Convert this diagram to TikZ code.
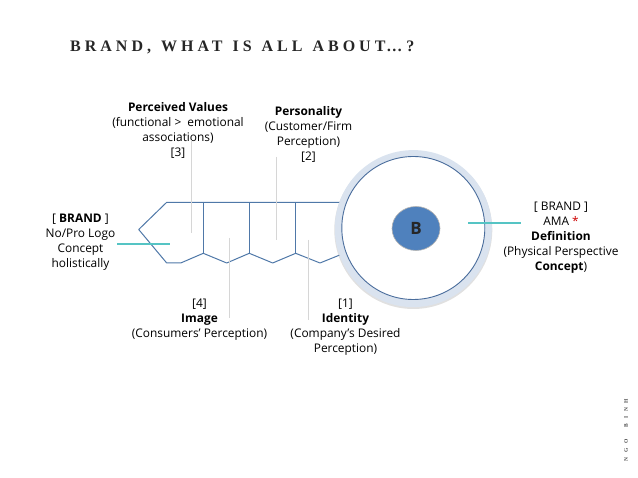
\documentclass[tikz,border=0pt]{standalone}
\usepackage{fontspec}
\usetikzlibrary{shapes.geometric}
\setmainfont{Open Sans}
\newfontfamily\titlefont[LetterSpace=25,WordSpace=1.25]{Liberation Serif}
\newfontfamily\sidefont[LetterSpace=85]{Liberation Serif}
\definecolor{keyline}{HTML}{4F78A8}
\definecolor{ringfill}{HTML}{DAE3EF}
\definecolor{ringline}{HTML}{4A6D9C}
\definecolor{hub}{HTML}{4F81BD}
\definecolor{tealc}{HTML}{55C4C4}
\definecolor{leader}{HTML}{D6D6D6}
\tikzset{
  lbl/.style={align=center,font=\fontsize{11.9}{15}\selectfont,text=black,inner sep=0pt},
  keyedge/.style={draw=keyline,line width=1pt,line join=round},
  tealline/.style={draw=tealc,line width=1.2pt},
  leaderline/.style={draw=leader,line width=0.8pt}
}
\begin{document}
\begin{tikzpicture}[x=1pt,y=-1pt]
\useasboundingbox (0,0) rectangle (638,478);
% title
\node[anchor=west,inner sep=0pt,font=\titlefont\bfseries\fontsize{16}{18}\selectfont,text=black!85] (title) at (70,47.5) {BRAND, WHAT IS ALL ABOUT\hspace{1pt}…\hspace{4pt}?};
% key outline
\coordinate (tip) at (138.7,229.5);
\coordinate (tl) at (166.7,202.3);
\coordinate (tr) at (341,202.3);
\coordinate (bl) at (166.7,263);
\coordinate (b0) at (180.7,263);
\coordinate (d1t) at (203.3,202.3);
\coordinate (d1b) at (203.3,253.3);
\coordinate (l1) at (226.7,263);
\coordinate (d2t) at (249.3,202.3);
\coordinate (d2b) at (249.3,253.3);
\coordinate (l2) at (272.7,263);
\coordinate (d3t) at (295.7,202.3);
\coordinate (d3b) at (295.7,253.3);
\coordinate (l3) at (320,263);
\coordinate (br) at (341,254.5);
\draw[keyedge] (tr) -- (tl) -- (tip) -- (bl) -- (b0) -- (d1b) -- (l1) -- (d2b) -- (l2) -- (d3b) -- (l3) -- (br);
\draw[keyedge] (d1t) -- (d1b);
\draw[keyedge] (d2t) -- (d2b);
\draw[keyedge] (d3t) -- (d3b);
% ring
\node[circle,minimum size=158pt,inner sep=0pt,fill=black!40,opacity=.3] (shadow) at (413.3,230) {};
\node[circle,minimum size=157pt,inner sep=0pt,fill=ringfill] (ring) at (413.3,228.6) {};
\node[circle,minimum size=143pt,inner sep=0pt,fill=white,draw=ringline,line width=0.9pt] (disc) at (413.3,228) {};
\node[ellipse,minimum width=48pt,minimum height=44pt,inner sep=0pt,fill=hub,draw=black!30,line width=0.6pt,font=\bfseries\fontsize{17}{20}\selectfont,text=black!85] (hubn) at (416,228.5) {B};
% labels
\node[lbl] (l3lab) at (178,130) {\textbf{Perceived Values}\\(functional >\ \ emotional\\associations)\\{}[3]};
\node[lbl] (l2lab) at (308.5,134) {\textbf{Personality}\\(Customer/Firm\\Perception)\\{}[2]};
\node[lbl] (l4lab) at (199.5,320) {[4]\\\textbf{Image}\\(Consumers’ Perception)};
\node[lbl] (l1lab) at (345.5,327.5) {[1]\\\textbf{Identity}\\(Company’s Desired\\Perception)};
\node[lbl] (brandL) at (80.5,242) {[ \textbf{BRAND} ]\\No/Pro Logo\\Concept\\holistically};
\node[lbl] (brandR) at (561,238) {[ BRAND ]\\AMA \textcolor{red!80!black}{*}\\\textbf{Definition}\\(Physical Perspective\\\textbf{Concept})};
% leaders
\coordinate (a1) at (191.3,140); \coordinate (a2) at (191.3,233);
\coordinate (b1) at (276.7,157); \coordinate (b2) at (276.7,240);
\coordinate (c1) at (229.7,238); \coordinate (c2) at (229.7,318);
\coordinate (e1) at (308.3,240); \coordinate (e2) at (308.3,320);
\draw[leaderline] (a1) -- (a2);
\draw[leaderline] (b1) -- (b2);
\draw[leaderline] (c1) -- (c2);
\draw[leaderline] (e1) -- (e2);
% teal
\coordinate (t1) at (117,244); \coordinate (t2) at (170,244);
\coordinate (t3) at (468,223); \coordinate (t4) at (521,223);
\draw[tealline] (t1) -- (t2);
\draw[tealline] (t3) -- (t4);
% side
\node[rotate=90,inner sep=0pt,font=\sidefont\bfseries\fontsize{5.5}{6}\selectfont,text=black!70] (side) at (626,430) {NGO\ \ BINH};
\end{tikzpicture}
\end{document}
